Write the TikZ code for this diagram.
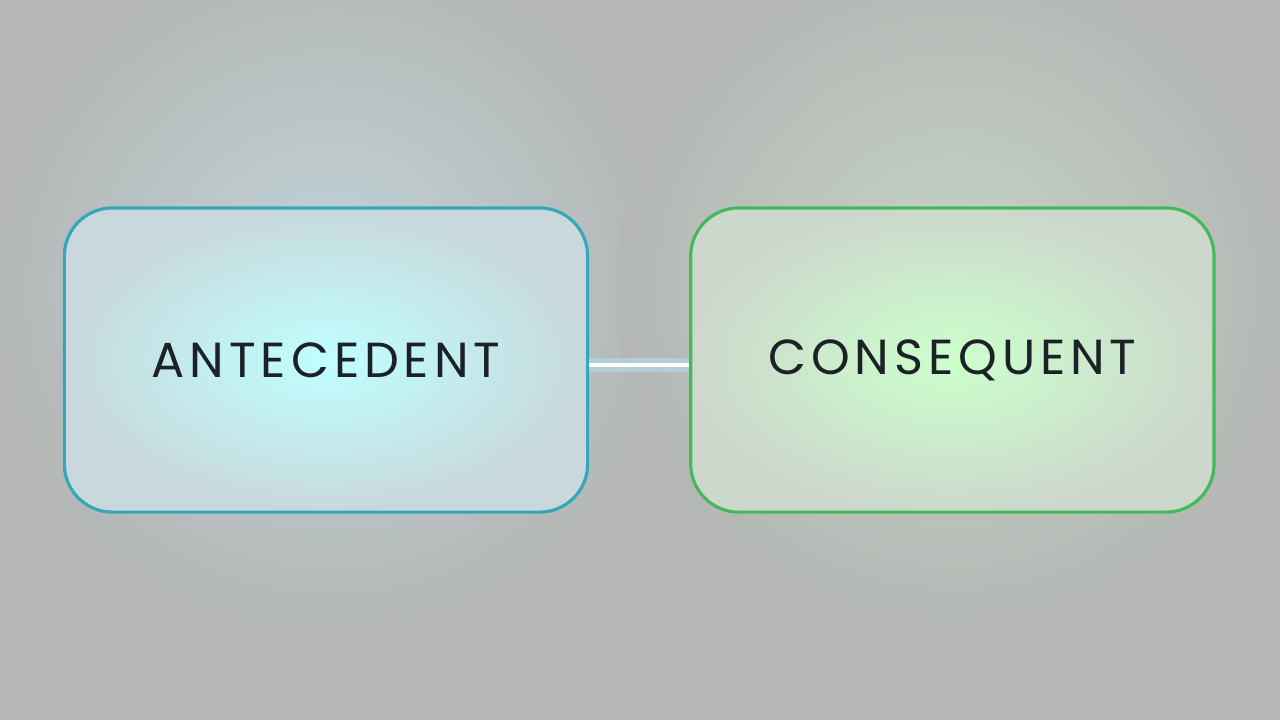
\documentclass[tikz,border=0pt]{standalone}
\usepackage{fontspec}
\setmainfont{Poppins}
\usetikzlibrary{positioning}
\definecolor{bggray}{HTML}{B4B7B5}
\definecolor{antborder}{HTML}{38A6B8}
\definecolor{conborder}{HTML}{45B955}
\definecolor{antglow}{RGB}{194,212,217}
\definecolor{conglow}{RGB}{198,212,198}
\definecolor{labelink}{HTML}{1B2126}

\begin{document}
\begin{tikzpicture}[x=0.01cm,y=-0.01cm,node distance=6.26cm,
    glass/.style={rectangle, rounded corners=0.48cm, minimum width=5.23cm, minimum height=3.04cm,
        line width=0.9pt, font=\fontsize{14}{17}\selectfont\addfontfeatures{LetterSpace=10}, text=labelink},
    link/.style={line width=1pt, draw=white}]

            \useasboundingbox (0,0) rectangle (1280,720);
            \clip (0,0) rectangle (1280,720);

            % background and halos
            \fill[bggray] (0,0) rectangle (1280,720);
            \shade[inner color=antglow, outer color=bggray] (330,290) circle (340);
            \shade[inner color=conglow, outer color=bggray] (955,290) circle (340);

            \node[glass, draw=antborder, inner color=cyan!25!white, outer color=antglow!90!white, shade] (ante) at (326,360) {ANTECEDENT};
            \node[glass, draw=conborder, inner color=green!20!white, outer color=conglow!90!white, shade] (cons) [right of=ante] {CONSEQUENT};

            \draw[link, line width=4pt, draw=white!70!cyan, opacity=0.45] ([yshift=-0.05cm]ante.east) -- ([yshift=-0.05cm]cons.west);
            \draw[link] ([yshift=-0.05cm]ante.east) -- ([yshift=-0.05cm]cons.west);
        \end{tikzpicture}
\end{document}
